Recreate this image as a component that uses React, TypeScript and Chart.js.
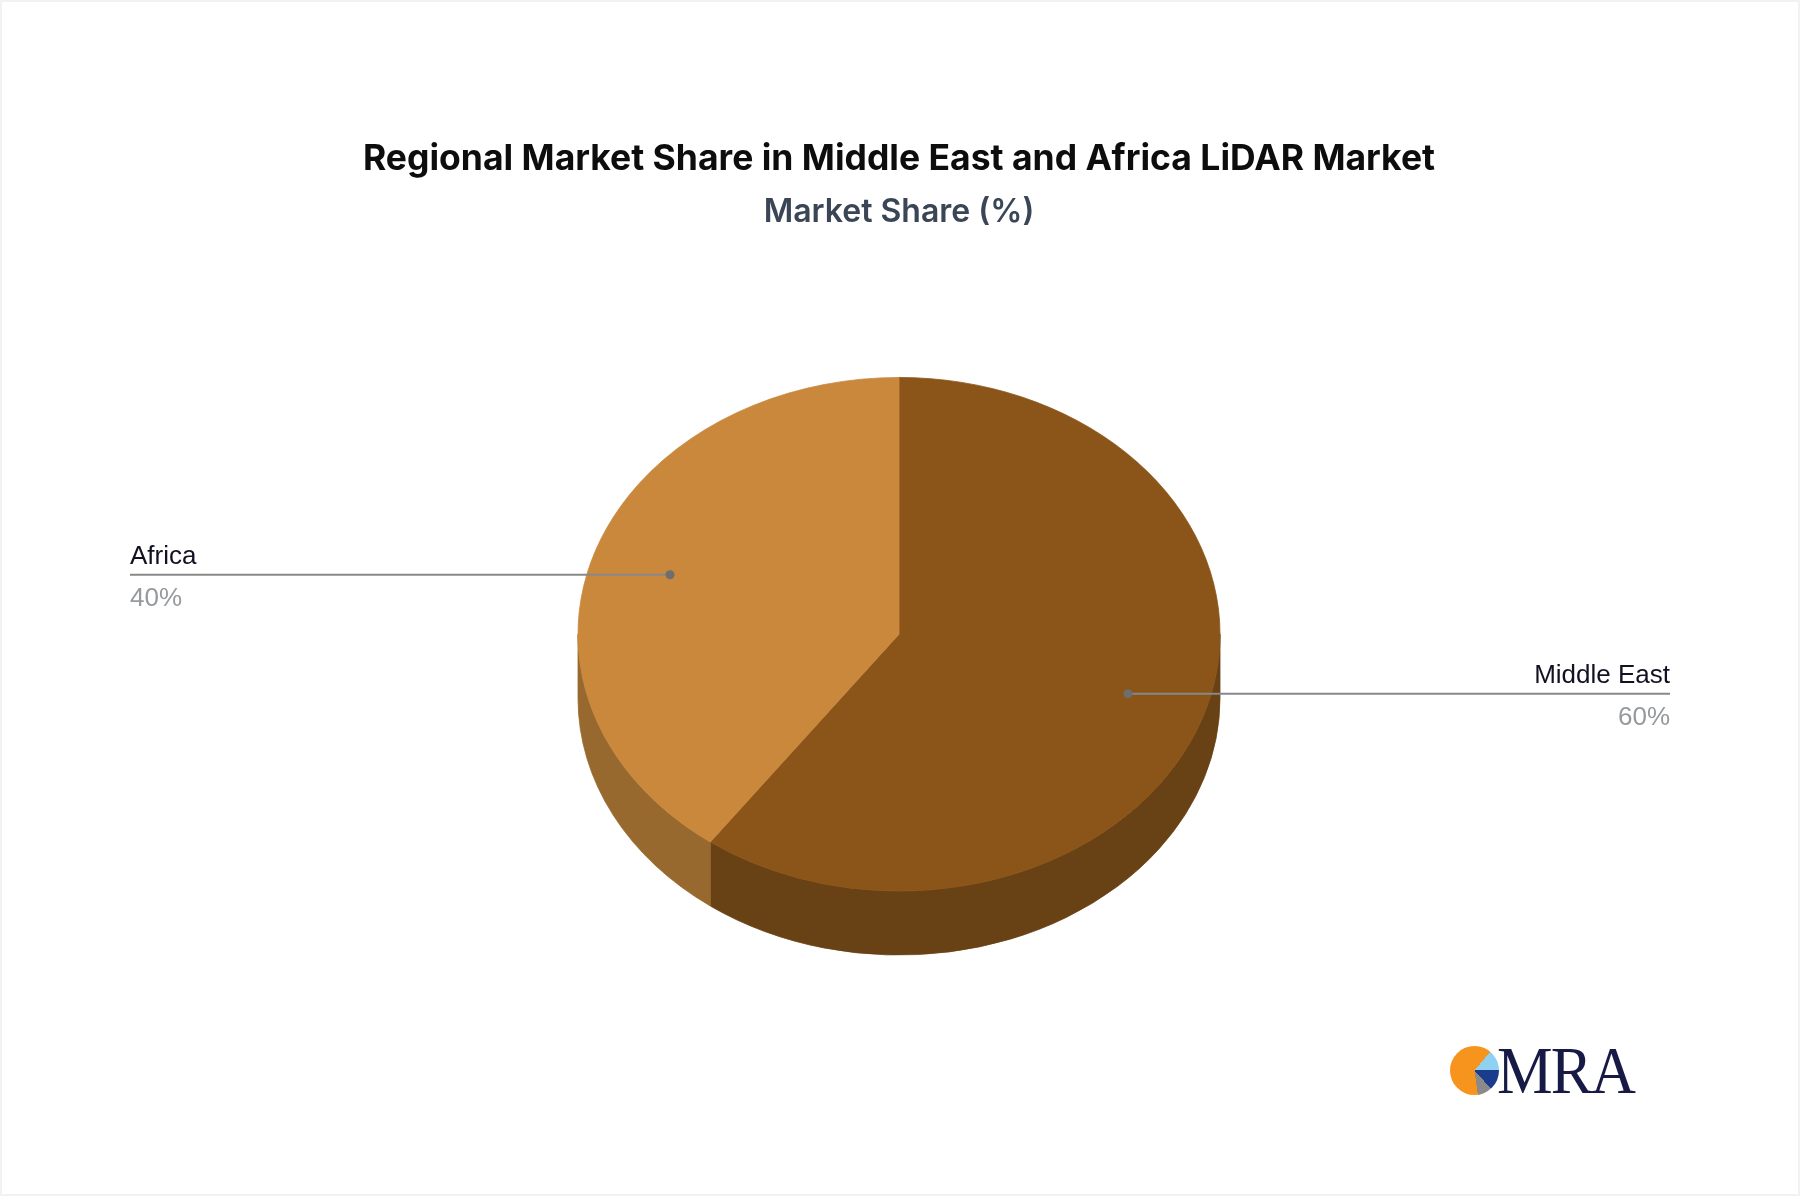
import React, { useEffect, useRef } from "react";
import { Chart, registerables } from "chart.js";

Chart.register(...registerables);

// ---- Data ----
const categories = ["Middle East", "Africa"];
const shares = [60, 40];
const percentLabels = ["60%", "40%"];
const topColors = ["#8B5519", "#C9883C"];
const sideColors = ["#684114", "#98692E"];

const TITLE = "Regional Market Share in Middle East and Africa LiDAR Market";
const SUBTITLE = "Market Share (%)";

// ---- Style / layout constants ----
const TILT = 0.8; // vertical squash of the pie face
const DEPTH = 64; // thickness of the pie
const LABEL_LEFT_X = 130;
const LABEL_RIGHT_X = 1670;
const ANCHOR_RATIO = 0.75;
const ANCHOR_Y_SHIFT = 0;

function pieGeometry(chart: any) {
  const meta = chart.getDatasetMeta(0);
  const arcs = meta.data as any[];
  if (!arcs.length) return null;
  const cx = arcs[0].x;
  const cy = arcs[0].y;
  const rx = arcs[0].outerRadius;
  const ry = rx * TILT;
  return { arcs, cx, cy, rx, ry };
}

const pie3d = {
  id: "pie3d",
  beforeDatasetsDraw(chart: any) {
    const ctx: CanvasRenderingContext2D = chart.ctx;
    const g = pieGeometry(chart);
    if (!g) return false;
    const { arcs, cx, cy, rx, ry } = g;
    ctx.save();
    // side walls (only the front half is visible: angles 0..PI)
    arcs.forEach((arc, i) => {
      const a0 = Math.max(arc.startAngle, 0);
      const a1 = Math.min(arc.endAngle, Math.PI);
      if (a1 <= a0) return;
      ctx.beginPath();
      ctx.ellipse(cx, cy, rx, ry, 0, a0, a1, false);
      ctx.lineTo(cx + rx * Math.cos(a1), cy + DEPTH + ry * Math.sin(a1));
      ctx.ellipse(cx, cy + DEPTH, rx, ry, 0, a1, a0, true);
      ctx.closePath();
      ctx.fillStyle = sideColors[i];
      ctx.fill();
      ctx.strokeStyle = sideColors[i];
      ctx.lineWidth = 0.8;
      ctx.stroke();
    });
    // top faces
    arcs.forEach((arc, i) => {
      ctx.beginPath();
      ctx.moveTo(cx, cy);
      ctx.ellipse(cx, cy, rx, ry, 0, arc.startAngle, arc.endAngle, false);
      ctx.closePath();
      ctx.fillStyle = topColors[i];
      ctx.fill();
      ctx.strokeStyle = topColors[i];
      ctx.lineWidth = 0.8;
      ctx.stroke();
    });
    ctx.restore();
    return false;
  },
  afterDraw(chart: any) {
    const ctx: CanvasRenderingContext2D = chart.ctx;
    const g = pieGeometry(chart);
    if (!g) return;
    const { arcs, cx, cy, rx, ry } = g;
    ctx.save();
    arcs.forEach((arc, i) => {
      const mid = (arc.startAngle + arc.endAngle) / 2;
      const ax = cx + ANCHOR_RATIO * rx * Math.cos(mid);
      const ay = cy + ANCHOR_RATIO * ry * Math.sin(mid) + ANCHOR_Y_SHIFT;
      const left = Math.cos(mid) < 0;
      const endX = left ? LABEL_LEFT_X : LABEL_RIGHT_X;
      ctx.beginPath();
      ctx.moveTo(ax, ay);
      ctx.lineTo(endX, ay);
      ctx.strokeStyle = "#888888";
      ctx.lineWidth = 2;
      ctx.stroke();
      ctx.beginPath();
      ctx.arc(ax, ay, 4.5, 0, Math.PI * 2);
      ctx.fillStyle = "#6e6e6e";
      ctx.fill();
      ctx.textAlign = left ? "left" : "right";
      ctx.textBaseline = "alphabetic";
      ctx.font = '26px "Liberation Sans", Arial, sans-serif';
      ctx.fillStyle = "#111122";
      ctx.fillText(categories[i], endX, ay - 11);
      ctx.fillStyle = "#979a9d";
      ctx.fillText(percentLabels[i], endX, ay + 31);
    });
    ctx.restore();
  },
};

function Logo() {
  return (
    <div
      style={{
        position: "absolute",
        left: 1450,
        top: 1040,
        height: 60,
        display: "flex",
        alignItems: "center",
      }}
    >
      <div
        style={{
          width: 49,
          height: 49,
          borderRadius: "50%",
          background:
            "conic-gradient(#F7941D 0deg 40deg, #8ED1F0 40deg 90deg, #1B3C8C 90deg 138deg, #8a8a8a 138deg 172deg, #F7941D 172deg 360deg)",
        }}
      />
      <div
        style={{
          fontFamily: '"Liberation Serif", "Times New Roman", serif',
          fontSize: 68,
          color: "#161a45",
          lineHeight: "60px",
          marginLeft: -2,
          transform: "scaleX(0.92)",
          transformOrigin: "left center",
          letterSpacing: -2,
        }}
      >
        MRA
      </div>
    </div>
  );
}

export default function App() {
  const canvasRef = useRef<HTMLCanvasElement | null>(null);

  useEffect(() => {
    if (!canvasRef.current) return;
    const chart = new Chart(canvasRef.current, {
      type: "pie",
      data: {
        labels: categories,
        datasets: [
          {
            data: shares,
            backgroundColor: topColors,
            borderWidth: 0,
          },
        ],
      },
      options: {
        animation: false,
        responsive: true,
        maintainAspectRatio: false,
        events: [],
        radius: 321,
        layout: { padding: { top: 0, bottom: 159, left: 0, right: 2 } },
        plugins: {
          legend: { display: false },
          tooltip: { enabled: false },
          title: {
            display: true,
            text: TITLE,
            color: "#0d0d0d",
            font: { family: "Inter", size: 35.5, weight: "bold" },
            padding: { top: 138.5, bottom: 0 },
          },
          subtitle: {
            display: true,
            text: SUBTITLE,
            color: "#3a4556",
            font: { family: "Inter", size: 32, weight: 600 },
            padding: { top: 12, bottom: 0 },
          },
        },
      } as any,
      plugins: [pie3d],
    });
    return () => chart.destroy();
  }, []);

  return (
    <div
      style={{
        position: "absolute",
        left: 0,
        top: 0,
        width: 1800,
        height: 1196,
        background: "#ffffff",
        overflow: "hidden",
      }}
    >
      <div style={{ position: "absolute", left: 0, top: 0, width: 1800, height: 1196 }}>
        <canvas ref={canvasRef} />
      </div>
      <Logo />
      <div
        style={{
          position: "absolute",
          left: 0,
          top: 0,
          width: 1800,
          height: 1196,
          boxSizing: "border-box",
          border: "2px solid #f2f2f2",
          pointerEvents: "none",
        }}
      />
    </div>
  );
}
